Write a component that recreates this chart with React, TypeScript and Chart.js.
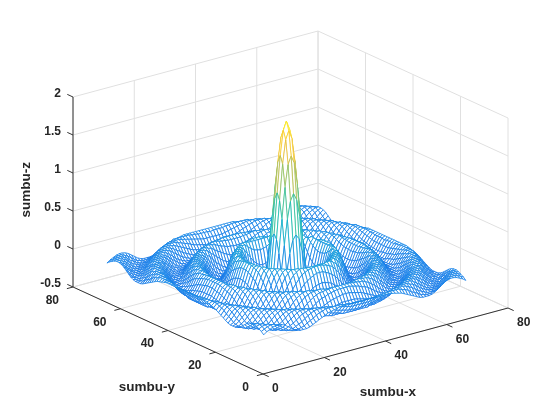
import React, { useEffect, useRef } from "react";
import { Chart, registerables } from "chart.js";

Chart.register(...registerables);

const xTicks = [0, 20, 40, 60, 80];
const yTicks = [0, 20, 40, 60, 80];
const zTicks = [-0.5, 0, 0.5, 1, 1.5, 2];
const zTickLabels = ["-0.5", "0", "0.5", "1", "1.5", "2"];
const xTitle = "sumbu-x";
const yTitle = "sumbu-y";
const zTitle = "sumbu-z";
const gridCenter = 34;

// Surface heights x100, estimated per octant from the centre of the grid outwards.
const zOctant: number[][] = [
  [197],
  [186, 175],
  [154, 144, 115],
  [106, 97, 74, 41],
  [53, 47, 30, 6, -18],
  [6, 2, -9, -23, -36, -43],
  [-27, -28, -32, -38, -42, -41, -33],
  [-42, -43, -42, -41, -40, -32, -22, -8],
  [-40, -40, -37, -33, -27, -17, -6, 6, 16],
  [-26, -25, -22, -16, -9, -1, 9, 17, 24, 25],
  [-6, -5, -2, 2, 8, 14, 20, 24, 25, 22, 16],
  [12, 13, 14, 17, 20, 24, 24, 25, 21, 16, 8, -1],
  [24, 24, 24, 24, 25, 25, 22, 19, 13, 6, -2, -9, -15],
  [25, 25, 24, 23, 21, 19, 14, 9, 3, -4, -10, -16, -17, -17],
  [18, 18, 16, 14, 11, 8, 3, -2, -8, -12, -16, -18, -17, -13, -8],
  [6, 5, 4, 2, -1, -4, -8, -12, -16, -17, -18, -16, -13, -8, -1, 5],
  [-7, -7, -8, -9, -11, -13, -16, -17, -18, -17, -15, -11, -6, 0, 6, 11, 13],
  [-16, -16, -16, -16, -17, -18, -18, -17, -15, -12, -8, -3, 2, 7, 11, 13, 13, 12],
  [-18, -18, -18, -17, -17, -16, -14, -12, -8, -5, 0, 5, 8, 12, 14, 13, 12, 7, 2],
  [-14, -14, -13, -12, -11, -9, -7, -3, 0, 4, 7, 11, 13, 14, 13, 11, 7, 2, -3, -8],
  [-6, -6, -5, -4, -2, 0, 3, 5, 8, 11, 12, 14, 14, 12, 9, 6, 1, -3, -8, -10, -11],
  [4, 4, 5, 5, 7, 8, 10, 12, 13, 14, 14, 13, 11, 8, 4, -1, -4, -9, -10, -11, -10, -7],
  [11, 11, 11, 12, 12, 13, 14, 14, 13, 13, 11, 9, 5, 2, -2, -6, -9, -11, -11, -10, -7, -3, 1],
  [14, 14, 14, 14, 13, 13, 12, 12, 10, 8, 5, 2, -2, -5, -8, -10, -11, -11, -9, -7, -3, 1, 5, 8],
  [12, 12, 12, 11, 10, 9, 7, 6, 4, 1, -2, -5, -7, -9, -11, -11, -11, -9, -6, -2, 2, 6, 8, 9, 9],
  [6, 6, 5, 4, 3, 2, 0, -2, -4, -6, -8, -9, -11, -11, -11, -10, -7, -4, -1, 3, 6, 8, 9, 9, 7, 4],
  [-2, -2, -2, -3, -4, -5, -6, -8, -9, -10, -11, -11, -11, -10, -8, -6, -3, 1, 4, 7, 9, 9, 9, 7, 4, 0, -4],
  [-8, -8, -9, -9, -9, -10, -10, -11, -11, -11, -11, -10, -8, -6, -3, 0, 3, 6, 8, 9, 9, 8, 6, 3, 0, -4, -6, -8],
  [-12, -12, -11, -11, -11, -11, -11, -11, -10, -9, -7, -5, -3, 0, 2, 5, 7, 9, 9, 9, 8, 6, 2, -1, -4, -7, -8, -8, -7],
  [-10, -10, -10, -10, -10, -8, -7, -6, -5, -3, -1, 1, 3, 5, 7, 8, 9, 9, 9, 7, 4, 1, -2, -5, -7, -8, -8, -7, -4, -1],
  [-6, -6, -5, -5, -4, -3, -2, -1, 1, 3, 4, 6, 7, 9, 9, 9, 9, 7, 6, 3, 0, -3, -5, -7, -8, -8, -6, -4, -1, 3, 5],
  [1, 1, 1, 1, 2, 3, 4, 5, 6, 7, 8, 9, 9, 9, 9, 8, 6, 4, 1, -2, -4, -6, -8, -8, -8, -6, -3, -1, 3, 5, 7, 7],
  [6, 7, 7, 7, 7, 8, 8, 9, 9, 9, 9, 9, 9, 7, 6, 4, 1, -1, -3, -6, -7, -8, -8, -7, -6, -3, 0, 3, 5, 7, 7, 6, 4],
  [9, 9, 9, 9, 9, 9, 9, 9, 9, 8, 7, 6, 5, 3, 1, -1, -3, -5, -7, -8, -8, -8, -7, -5, -2, 1, 4, 6, 7, 7, 6, 4, 2, -1],
];

const parulaStops: [number, number, number][] = [
  [15, 100, 225], [16, 112, 230], [18, 128, 232], [14, 165, 215], [10, 184, 190],
  [54, 192, 150], [120, 195, 110], [190, 190, 75], [245, 190, 55], [250, 215, 40], [249, 250, 20],
];
const colorMin = -0.43;
const colorMax = 2;

function parula(z: number): string {
  const t = Math.max(0, Math.min(0.9999, (z - colorMin) / (colorMax - colorMin))) * (parulaStops.length - 1);
  const k = Math.floor(t);
  const f = t - k;
  const a = parulaStops[k];
  const b = parulaStops[k + 1];
  return `rgb(${Math.round(a[0] + (b[0] - a[0]) * f)},${Math.round(a[1] + (b[1] - a[1]) * f)},${Math.round(a[2] + (b[2] - a[2]) * f)})`;
}

// Oblique projection of the 3-D box into the chart's linear plane.
function project(x: number, y: number, z: number) {
  return {
    x: 263 + 3.0625 * x - 2.375 * y,
    y: 374 - 0.825 * x - 1.0875 * y - 76 * (z + 0.5),
  };
}

function heightAt(x: number, y: number): number {
  const a = Math.abs(x - gridCenter);
  const b = Math.abs(y - gridCenter);
  return zOctant[Math.max(a, b)][Math.min(a, b)] / 100;
}

function lineSet(pts: { x: number; y: number }[], color: string, width: number) {
  return {
    data: pts,
    showLine: true,
    fill: false,
    borderColor: color,
    borderWidth: width,
    pointRadius: 0,
    tension: 0,
  };
}

function buildDatasets() {
  const sets: any[] = [];
  const last = gridCenter * 2 - 1;
  for (let i = 1; i < last; i++) {
    for (let j = 1; j < last; j++) {
      const h = [heightAt(i, j), heightAt(i + 1, j), heightAt(i + 1, j + 1), heightAt(i, j + 1)];
      const pts = [
        project(i, j, h[0]),
        project(i + 1, j, h[1]),
        project(i + 1, j + 1, h[2]),
        project(i, j + 1, h[3]),
        project(i, j, h[0]),
      ];
      const mean = (h[0] + h[1] + h[2] + h[3]) / 4;
      sets.push({ ...lineSet(pts, parula(mean), 0.8), isMesh: true });
    }
  }
  const axisColor = "#333333";
  const gridColor = "#e0e0e0";
  const tickColor = "#333333";
  const xMax = xTicks[xTicks.length - 1];
  const yMax = yTicks[yTicks.length - 1];
  const zMin = zTicks[0];
  const zMax = zTicks[zTicks.length - 1];
  // axes and tick marks
  sets.push(lineSet([project(0, 0, zMin), project(xMax, 0, zMin)], axisColor, 1));
  sets.push(lineSet([project(0, 0, zMin), project(0, yMax, zMin)], axisColor, 1));
  sets.push(lineSet([project(0, yMax, zMin), project(0, yMax, zMax)], axisColor, 1));
  xTicks.forEach((t) => sets.push(lineSet([project(t, 0, zMin), project(t, -2.4, zMin)], tickColor, 1)));
  yTicks.forEach((t) => sets.push(lineSet([project(0, t, zMin), project(-2, t, zMin)], tickColor, 1)));
  zTicks.forEach((t) => sets.push(lineSet([project(0, yMax, t), project(0, yMax + 2.4, t)], tickColor, 1)));
  // grid
  xTicks.forEach((t) => {
    sets.push(lineSet([project(t, 0, zMin), project(t, yMax, zMin), project(t, yMax, zMax)], gridColor, 1));
  });
  yTicks.forEach((t) => {
    sets.push(lineSet([project(0, t, zMin), project(xMax, t, zMin), project(xMax, t, zMax)], gridColor, 1));
  });
  zTicks.forEach((t) => {
    sets.push(lineSet([project(0, yMax, t), project(xMax, yMax, t), project(xMax, 0, t)], gridColor, 1));
  });
  return sets;
}

const meshFacePlugin = {
  id: "meshFace",
  beforeDatasetDraw(chart: any, args: any) {
    if (!chart.data.datasets[args.index].isMesh) return;
    const ctx = chart.ctx;
    const pts = args.meta.data;
    ctx.save();
    ctx.fillStyle = "#ffffff";
    ctx.beginPath();
    ctx.moveTo(pts[0].x, pts[0].y);
    for (let k = 1; k < 4; k++) ctx.lineTo(pts[k].x, pts[k].y);
    ctx.closePath();
    ctx.fill();
    ctx.restore();
  },
};

const axisTextPlugin = {
  id: "axisText",
  afterDatasetsDraw(chart: any) {
    const { ctx, scales } = chart;
    const px = (p: { x: number; y: number }) => ({
      x: scales.x.getPixelForValue(p.x),
      y: scales.y.getPixelForValue(p.y),
    });
    const yMax = yTicks[yTicks.length - 1];
    const zMin = zTicks[0];
    ctx.save();
    ctx.fillStyle = "#262626";
    ctx.textBaseline = "middle";
    ctx.font = 'bold 12px "Liberation Sans"';
    ctx.textAlign = "left";
    xTicks.forEach((t) => {
      const p = px(project(t, 0, zMin));
      ctx.fillText(String(t), p.x + 9, p.y + 15);
    });
    ctx.textAlign = "right";
    yTicks.forEach((t) => {
      const p = px(project(0, t, zMin));
      ctx.fillText(String(t), p.x - 14, p.y + 13.5);
    });
    zTicks.forEach((t, n) => {
      const p = px(project(0, yMax, t));
      ctx.fillText(zTickLabels[n], p.x - 12, p.y - 3);
    });
    ctx.font = 'bold 13.5px "Liberation Sans"';
    ctx.textAlign = "center";
    const xT = px(project(17.6, -29.9, zMin));
    ctx.fillText(xTitle, xT.x, xT.y);
    const yT = px(project(-29.7, 10.6, zMin));
    ctx.fillText(yTitle, yT.x, yT.y);
    const zT = px(project(0, yMax + 19.5, 0.5));
    ctx.translate(zT.x, zT.y);
    ctx.rotate(-Math.PI / 2);
    ctx.fillText(zTitle, 0, 0);
    ctx.restore();
  },
};

export default function App() {
  const ref = useRef<HTMLCanvasElement | null>(null);
  useEffect(() => {
    if (!ref.current) return;
    const chart = new Chart(ref.current, {
      type: "scatter",
      data: { datasets: buildDatasets() },
      options: {
        animation: false,
        responsive: false,
        events: [],
        layout: { padding: 0 },
        scales: {
          x: { type: "linear", min: 0, max: 560, display: false },
          y: { type: "linear", min: 0, max: 420, reverse: true, display: false },
        },
        plugins: { legend: { display: false }, tooltip: { enabled: false } },
      },
      plugins: [meshFacePlugin, axisTextPlugin],
    } as any);
    return () => chart.destroy();
  }, []);
  return (
    <div style={{ position: "fixed", left: 0, top: 0, width: 560, height: 420, background: "#fff" }}>
      <canvas ref={ref} width={560} height={420} style={{ display: "block" }} />
    </div>
  );
}
